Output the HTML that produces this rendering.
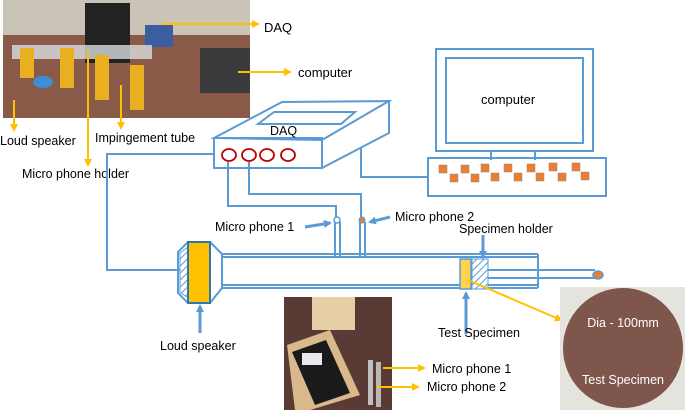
<!DOCTYPE html>
<html><head><meta charset="utf-8"><style>
body{margin:0;background:#fff;}
svg{display:block;font-family:"Liberation Sans",sans-serif;}
</style></head><body>
<svg width="685" height="410" viewBox="0 0 685 410">
<defs>
<marker id="ab" markerWidth="8" markerHeight="8" refX="6" refY="4" orient="auto" markerUnits="userSpaceOnUse"><path d="M0,0 L8,4 L0,8 z" fill="#5b9bd5"/></marker>
<marker id="ay" markerWidth="8" markerHeight="8" refX="6" refY="4" orient="auto" markerUnits="userSpaceOnUse"><path d="M0,0 L8,4 L0,8 z" fill="#ffc000"/></marker>
<pattern id="hatch" width="5" height="5" patternUnits="userSpaceOnUse" patternTransform="rotate(45)"><rect width="5" height="5" fill="#fff"/><line x1="0" y1="0" x2="0" y2="5" stroke="#5b9bd5" stroke-width="2"/></pattern>
</defs>
<!-- photo 1 -->
<rect x="3" y="0" width="247" height="118" fill="#8a5a48"/>
<rect x="3" y="0" width="247" height="35" fill="#c9c3b8"/>
<rect x="85" y="3" width="45" height="60" fill="#222"/>
<rect x="145" y="25" width="28" height="22" fill="#3a5ea0"/>
<rect x="200" y="48" width="50" height="45" fill="#3a3a3c"/>
<rect x="12" y="45" width="140" height="14" fill="#d8dde0" opacity="0.8"/>
<rect x="20" y="48" width="14" height="30" fill="#e8b020"/>
<rect x="60" y="48" width="14" height="40" fill="#e8b020"/>
<rect x="95" y="55" width="14" height="45" fill="#e8b020"/>
<rect x="130" y="65" width="14" height="45" fill="#e8b020"/>
<ellipse cx="43" cy="82" rx="10" ry="6" fill="#3a90d8"/>
<!-- photo1 labels -->
<line x1="162" y1="24" x2="258" y2="24" stroke="#ffc000" stroke-width="2" marker-end="url(#ay)"/>
<text x="264" y="32" font-size="13">DAQ</text>
<line x1="238" y1="72" x2="290" y2="72" stroke="#ffc000" stroke-width="2" marker-end="url(#ay)"/>
<text x="298" y="77" font-size="13">computer</text>
<line x1="14" y1="100" x2="14" y2="130" stroke="#ffc000" stroke-width="2" marker-end="url(#ay)"/>
<text x="0" y="145" font-size="12.5">Loud speaker</text>
<line x1="121" y1="85" x2="121" y2="128" stroke="#ffc000" stroke-width="2" marker-end="url(#ay)"/>
<text x="95" y="142" font-size="12.5">Impingement tube</text>
<line x1="88" y1="50" x2="88" y2="165" stroke="#ffc000" stroke-width="2" marker-end="url(#ay)"/>
<text x="22" y="178" font-size="12.5">Micro phone holder</text>

<g fill="none" stroke="#5b9bd5" stroke-width="2">
<!-- DAQ -->
<path d="M214,138 L282,102 L389,101 L322,140 Z"/>
<path d="M258,124 L274,112 L355,112 L341,124 Z"/>
<rect x="214" y="138" width="108" height="30"/>
<path d="M322,168 L389,133 L389,101"/>
<!-- wires -->
<path d="M214,154 H107 V270 H180"/>
<path d="M228,162 V206 H336 V218"/>
<path d="M249,162 V194 H361 V218"/>
<path d="M361,147 V177 H428"/>
<!-- computer -->
<rect x="436" y="49" width="157" height="102"/>
<rect x="446" y="58" width="137" height="85"/>
<path d="M491,151 V160 M535,151 V160"/>
<rect x="428" y="158" width="178" height="38"/>
<!-- tube -->
<path d="M222,254 H538 M222,257 H538 M222,285 H538 M222,288 H538 M538,254 V288"/>
<path d="M488,270 H595 M488,278 H595"/>
<path d="M335,220 V256 M340,222 V256 M360,222 V256 M365,222 V256"/>
<!-- speaker -->
<path d="M188,242 L178,252 L178,293 L188,303"/>
<path d="M210,242 L222,254 L222,288 L210,303"/>
</g>
<circle cx="337" cy="220" r="3" fill="#fff" stroke="#5b9bd5" stroke-width="1.5"/>
<circle cx="362" cy="220" r="3" fill="#ed7d31" stroke="#5b9bd5" stroke-width="1"/>
<ellipse cx="598" cy="275" rx="5" ry="4" fill="#ed7d31" stroke="#5b9bd5" stroke-width="1.5"/>
<path d="M180,253 L188,247 V298 L180,292 Z" fill="url(#hatch)" stroke="#5b9bd5"/>
<rect x="188" y="242" width="22" height="61" fill="#ffc000" stroke="#2e75b6" stroke-width="2"/>
<rect x="460" y="259" width="11" height="30" fill="#ffd34d" stroke="#5b9bd5" stroke-width="1.5"/>
<rect x="472" y="259" width="16" height="30" fill="url(#hatch)" stroke="#5b9bd5" stroke-width="1"/>
<g fill="none" stroke="#c00000" stroke-width="1.8">
<ellipse cx="229" cy="155" rx="7" ry="6"/><ellipse cx="249" cy="155" rx="7" ry="6"/>
<ellipse cx="267" cy="155" rx="7" ry="6"/><ellipse cx="288" cy="155" rx="7" ry="6"/>
</g>
<g fill="#ed7d31" stroke="#888" stroke-width="0.5">
<rect x="439" y="165" width="8" height="8"/><rect x="450" y="174" width="8" height="8"/>
<rect x="461" y="165" width="8" height="8"/><rect x="471" y="174" width="8" height="8"/>
<rect x="481" y="164" width="8" height="8"/><rect x="491" y="173" width="8" height="8"/>
<rect x="504" y="164" width="8" height="8"/><rect x="514" y="173" width="8" height="8"/>
<rect x="527" y="164" width="8" height="8"/><rect x="536" y="173" width="8" height="8"/>
<rect x="549" y="163" width="8" height="8"/><rect x="558" y="173" width="8" height="8"/>
<rect x="572" y="163" width="8" height="8"/><rect x="581" y="172" width="8" height="8"/>
</g>
<text x="270" y="135" font-size="12.5">DAQ</text>
<text x="481" y="104" font-size="13">computer</text>
<!-- labels -->
<g stroke="#5b9bd5" stroke-width="3">
<line x1="305" y1="227" x2="330" y2="223" marker-end="url(#ab)"/>
<line x1="390" y1="217" x2="370" y2="222" marker-end="url(#ab)"/>
<line x1="483" y1="235" x2="483" y2="257" marker-end="url(#ab)"/>
<line x1="466" y1="334" x2="466" y2="293" marker-end="url(#ab)"/>
<line x1="200" y1="333" x2="200" y2="306" marker-end="url(#ab)"/>
</g>
<line x1="468" y1="280" x2="561" y2="320" stroke="#ffc000" stroke-width="2" marker-end="url(#ay)"/>
<text x="215" y="231" font-size="12.5">Micro phone 1</text>
<text x="395" y="221" font-size="12.5">Micro phone 2</text>
<text x="459" y="233" font-size="12.5">Specimen holder</text>
<text x="438" y="337" font-size="12.5">Test Specimen</text>
<text x="160" y="350" font-size="12.5">Loud speaker</text>
<!-- photo 2 -->
<rect x="284" y="297" width="108" height="113" fill="#5a3a34"/>
<path d="M312,297 L355,297 L355,330 L312,330 Z" fill="#e6cfa5"/>
<path d="M287,345 L330,330 L360,395 L310,410 L295,410 Z" fill="#d9b98b"/>
<path d="M292,352 L326,340 L350,393 L315,405 Z" fill="#1a1a1a"/>
<rect x="302" y="353" width="20" height="12" fill="#e8e8f0"/>
<rect x="368" y="360" width="5" height="45" fill="#c0c0c0"/>
<rect x="376" y="362" width="5" height="45" fill="#b8b8b8"/>
<line x1="383" y1="368" x2="424" y2="368" stroke="#ffc000" stroke-width="2" marker-end="url(#ay)"/>
<line x1="377" y1="387" x2="418" y2="387" stroke="#ffc000" stroke-width="2" marker-end="url(#ay)"/>
<text x="432" y="373" font-size="12.5">Micro phone 1</text>
<text x="427" y="391" font-size="12.5">Micro phone 2</text>
<!-- disc -->
<rect x="560" y="287" width="125" height="123" fill="#e4e3de"/>
<circle cx="623" cy="348" r="60" fill="#7e564b"/>
<text x="623" y="327" font-size="12.5" fill="#fff" text-anchor="middle">Dia - 100mm</text>
<text x="623" y="384" font-size="12.5" fill="#fff" text-anchor="middle">Test Specimen</text>
</svg>
</body></html>
